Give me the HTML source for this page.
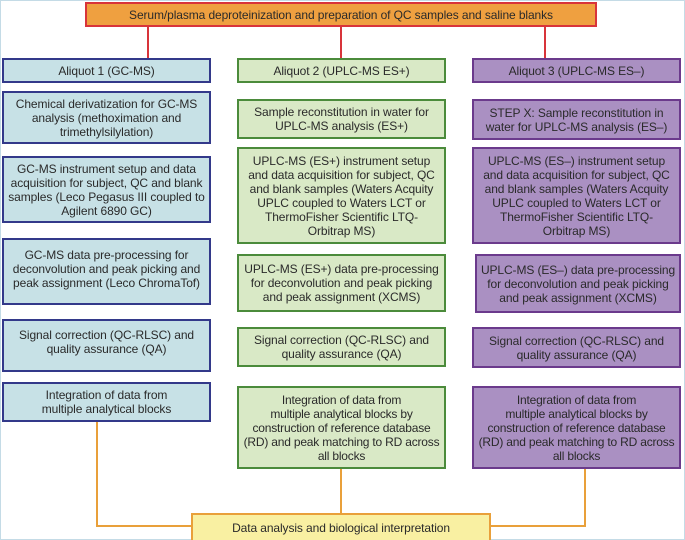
<!DOCTYPE html>
<html><head><meta charset="utf-8">
<style>
html,body{margin:0;padding:0}
body{width:685px;height:540px;position:relative;background:#fff;overflow:hidden;font-family:"Liberation Sans",Arial,sans-serif;}
#frame{position:absolute;left:0;top:0;width:683px;height:538px;border:1px solid #c4dbe6;}
.b{position:absolute;box-sizing:border-box;display:flex;align-items:center;justify-content:center;text-align:center;font-size:12px;line-height:14px;color:#2a2a2a;padding:0 3px;letter-spacing:-0.1px}
.nw{white-space:nowrap;padding:0;letter-spacing:-0.2px}
.c1{background:#c7e1e6;border:2px solid #33398a}
.c2{background:#d9e9c6;border:2px solid #4b8b3b}
.c3{background:#aa90c2;border:2px solid #6b3a8c}
svg{position:absolute;left:0;top:0}
</style></head><body>
<div id="frame"></div>
<svg width="685" height="540">
<g stroke="#d8343a" stroke-width="2" fill="none">
<line x1="148" y1="26" x2="148" y2="58"/>
<line x1="341" y1="26" x2="341" y2="58"/>
<line x1="545" y1="26" x2="545" y2="58"/>
</g>
<g stroke="#e9a03a" stroke-width="2" fill="none">
<polyline points="97,422 97,526 192,526"/>
<line x1="341" y1="469" x2="341" y2="514"/>
<polyline points="585,469 585,526 490,526"/>
</g>
</svg>
<div class="b" style="left:85px;top:2px;width:512px;height:25px;background:#efa040;border:2px solid #d8343a">Serum/plasma deproteinization and preparation of QC samples and saline blanks</div>

<div class="b c1" style="left:2px;top:58px;width:209px;height:25px">Aliquot 1 (GC-MS)</div>
<div class="b c1" style="left:2px;top:91px;width:209px;height:53px">Chemical derivatization for GC-MS analysis (methoximation and trimethylsilylation)</div>
<div class="b c1" style="left:2px;top:156px;width:209px;height:67px">GC-MS instrument setup and data acquisition for subject, QC and blank samples (Leco Pegasus III coupled to Agilent 6890 GC)</div>
<div class="b c1" style="left:2px;top:238px;width:209px;height:67px;padding-bottom:6px">GC-MS data pre-processing for deconvolution and peak picking and peak assignment (Leco ChromaTof)</div>
<div class="b c1" style="left:2px;top:319px;width:209px;height:53px;padding-bottom:8px">Signal correction (QC-RLSC) and quality assurance (QA)</div>
<div class="b c1" style="left:2px;top:382px;width:209px;height:40px">Integration of data from<br>multiple analytical blocks</div>

<div class="b c2" style="left:237px;top:58px;width:209px;height:25px">Aliquot 2 (UPLC-MS ES+)</div>
<div class="b c2" style="left:237px;top:99px;width:209px;height:40px">Sample reconstitution in water for UPLC-MS analysis (ES+)</div>
<div class="b c2" style="left:237px;top:147px;width:209px;height:97px">UPLC-MS (ES+) instrument setup and data acquisition for subject, QC and blank samples (Waters Acquity UPLC coupled to Waters LCT or<br>ThermoFisher Scientific LTQ-<br>Orbitrap MS)</div>
<div class="b c2" style="left:237px;top:254px;width:209px;height:58px">UPLC-MS (ES+) data pre-processing for deconvolution and peak picking and peak assignment (XCMS)</div>
<div class="b c2" style="left:237px;top:327px;width:209px;height:40px">Signal correction (QC-RLSC) and quality assurance (QA)</div>
<div class="b c2 nw" style="left:237px;top:386px;width:209px;height:83px">Integration of data from<br>multiple analytical blocks by<br>construction of reference database<br>(RD) and peak matching to RD across<br>all blocks</div>

<div class="b c3" style="left:472px;top:58px;width:209px;height:25px">Aliquot 3 (UPLC-MS ES–)</div>
<div class="b c3" style="left:472px;top:99px;width:209px;height:41px">STEP X: Sample reconstitution in water for UPLC-MS analysis (ES–)</div>
<div class="b c3" style="left:472px;top:147px;width:209px;height:97px">UPLC-MS (ES–) instrument setup and data acquisition for subject, QC and blank samples (Waters Acquity UPLC coupled to Waters LCT or<br>ThermoFisher Scientific LTQ-<br>Orbitrap MS)</div>
<div class="b c3" style="left:475px;top:254px;width:206px;height:59px">UPLC-MS (ES–) data pre-processing for deconvolution and peak picking and peak assignment (XCMS)</div>
<div class="b c3" style="left:472px;top:327px;width:209px;height:41px">Signal correction (QC-RLSC) and quality assurance (QA)</div>
<div class="b c3 nw" style="left:472px;top:386px;width:209px;height:83px">Integration of data from<br>multiple analytical blocks by<br>construction of reference database<br>(RD) and peak matching to RD across<br>all blocks</div>

<div class="b" style="left:191px;top:513px;width:300px;height:27px;background:#f9f0a2;border:2px solid #e9a03a;border-bottom:none">Data analysis and biological interpretation</div>
</body></html>
